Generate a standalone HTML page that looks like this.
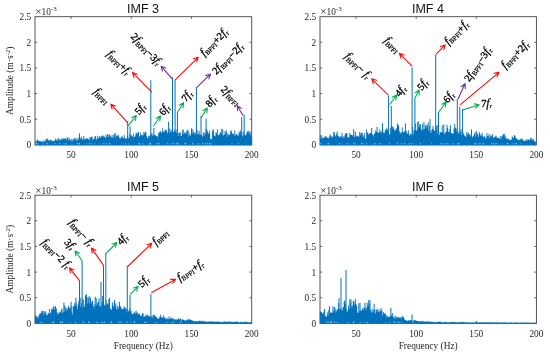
<!DOCTYPE html>
<html lang="en"><head><meta charset="utf-8"><title>IMF spectra</title>
<style>
html,body{margin:0;padding:0;background:#fff;}
body{width:550px;height:354px;overflow:hidden;}
svg{display:block;}
text{font-family:"Liberation Serif","DejaVu Serif",serif;fill:#262626;}
.tk{font-size:9.3px;}
.tt{font-family:"Liberation Sans","DejaVu Sans",sans-serif;font-size:12.5px;fill:#111;}
.al{font-size:9.4px;}
.lb{font-size:10.3px;fill:#000;stroke:#000;stroke-width:0.34px;}
.lb .it{font-style:italic;font-size:12px;stroke-width:0.22px;}
.lb .sb{font-size:6.8px;stroke-width:0.2px;}
</style></head><body>
<svg width="550" height="354" viewBox="0 0 550 354">
<rect width="550" height="354" fill="#fff"/>
<rect x="35.0" y="16.7" width="216.7" height="128.1" fill="none" stroke="#444" stroke-width="0.9"/>
<path d="M71.1,144.8v-2.2 M71.1,16.7v2.2 M131.3,144.8v-2.2 M131.3,16.7v2.2 M191.5,144.8v-2.2 M191.5,16.7v2.2 M35.0,119.2h2.2 M251.7,119.2h-2.2 M35.0,93.6h2.2 M251.7,93.6h-2.2 M35.0,67.9h2.2 M251.7,67.9h-2.2 M35.0,42.3h2.2 M251.7,42.3h-2.2" stroke="#444" stroke-width="0.8" fill="none"/>
<text class="tk" x="71.1" y="158.1" text-anchor="middle">50</text>
<text class="tk" x="131.3" y="158.1" text-anchor="middle">100</text>
<text class="tk" x="191.5" y="158.1" text-anchor="middle">150</text>
<text class="tk" x="251.7" y="158.1" text-anchor="middle">200</text>
<text class="tk" x="31.2" y="148.3" text-anchor="end">0</text>
<text class="tk" x="31.2" y="122.7" text-anchor="end">0.5</text>
<text class="tk" x="31.2" y="97.1" text-anchor="end">1</text>
<text class="tk" x="31.2" y="71.4" text-anchor="end">1.5</text>
<text class="tk" x="31.2" y="45.8" text-anchor="end">2</text>
<text class="tk" x="31.2" y="20.2" text-anchor="end">2.5</text>
<text class="tk" x="35.3" y="15.1"><tspan font-size="11">×</tspan>10<tspan dy="-4" font-size="7">-3</tspan></text>
<text class="tt" x="143.0" y="12.6" text-anchor="middle">IMF 3</text>
<rect x="320.0" y="16.7" width="216.4" height="128.1" fill="none" stroke="#444" stroke-width="0.9"/>
<path d="M356.1,144.8v-2.2 M356.1,16.7v2.2 M416.2,144.8v-2.2 M416.2,16.7v2.2 M476.3,144.8v-2.2 M476.3,16.7v2.2 M320.0,119.2h2.2 M536.4,119.2h-2.2 M320.0,93.6h2.2 M536.4,93.6h-2.2 M320.0,67.9h2.2 M536.4,67.9h-2.2 M320.0,42.3h2.2 M536.4,42.3h-2.2" stroke="#444" stroke-width="0.8" fill="none"/>
<text class="tk" x="356.1" y="158.1" text-anchor="middle">50</text>
<text class="tk" x="416.2" y="158.1" text-anchor="middle">100</text>
<text class="tk" x="476.3" y="158.1" text-anchor="middle">150</text>
<text class="tk" x="536.4" y="158.1" text-anchor="middle">200</text>
<text class="tk" x="316.2" y="148.3" text-anchor="end">0</text>
<text class="tk" x="316.2" y="122.7" text-anchor="end">0.5</text>
<text class="tk" x="316.2" y="97.1" text-anchor="end">1</text>
<text class="tk" x="316.2" y="71.4" text-anchor="end">1.5</text>
<text class="tk" x="316.2" y="45.8" text-anchor="end">2</text>
<text class="tk" x="316.2" y="20.2" text-anchor="end">2.5</text>
<text class="tk" x="320.3" y="15.1"><tspan font-size="11">×</tspan>10<tspan dy="-4" font-size="7">-3</tspan></text>
<text class="tt" x="427.9" y="12.6" text-anchor="middle">IMF 4</text>
<rect x="35.0" y="195.2" width="216.7" height="128.1" fill="none" stroke="#444" stroke-width="0.9"/>
<path d="M71.1,323.3v-2.2 M71.1,195.2v2.2 M131.3,323.3v-2.2 M131.3,195.2v2.2 M191.5,323.3v-2.2 M191.5,195.2v2.2 M35.0,297.7h2.2 M251.7,297.7h-2.2 M35.0,272.1h2.2 M251.7,272.1h-2.2 M35.0,246.4h2.2 M251.7,246.4h-2.2 M35.0,220.8h2.2 M251.7,220.8h-2.2" stroke="#444" stroke-width="0.8" fill="none"/>
<text class="tk" x="71.1" y="336.6" text-anchor="middle">50</text>
<text class="tk" x="131.3" y="336.6" text-anchor="middle">100</text>
<text class="tk" x="191.5" y="336.6" text-anchor="middle">150</text>
<text class="tk" x="251.7" y="336.6" text-anchor="middle">200</text>
<text class="tk" x="31.2" y="326.8" text-anchor="end">0</text>
<text class="tk" x="31.2" y="301.2" text-anchor="end">0.5</text>
<text class="tk" x="31.2" y="275.6" text-anchor="end">1</text>
<text class="tk" x="31.2" y="249.9" text-anchor="end">1.5</text>
<text class="tk" x="31.2" y="224.3" text-anchor="end">2</text>
<text class="tk" x="31.2" y="198.7" text-anchor="end">2.5</text>
<text class="tk" x="35.3" y="193.6"><tspan font-size="11">×</tspan>10<tspan dy="-4" font-size="7">-3</tspan></text>
<text class="tt" x="143.0" y="191.1" text-anchor="middle">IMF 5</text>
<rect x="320.0" y="195.2" width="216.4" height="128.1" fill="none" stroke="#444" stroke-width="0.9"/>
<path d="M356.1,323.3v-2.2 M356.1,195.2v2.2 M416.2,323.3v-2.2 M416.2,195.2v2.2 M476.3,323.3v-2.2 M476.3,195.2v2.2 M320.0,297.7h2.2 M536.4,297.7h-2.2 M320.0,272.1h2.2 M536.4,272.1h-2.2 M320.0,246.4h2.2 M536.4,246.4h-2.2 M320.0,220.8h2.2 M536.4,220.8h-2.2" stroke="#444" stroke-width="0.8" fill="none"/>
<text class="tk" x="356.1" y="336.6" text-anchor="middle">50</text>
<text class="tk" x="416.2" y="336.6" text-anchor="middle">100</text>
<text class="tk" x="476.3" y="336.6" text-anchor="middle">150</text>
<text class="tk" x="536.4" y="336.6" text-anchor="middle">200</text>
<text class="tk" x="316.2" y="326.8" text-anchor="end">0</text>
<text class="tk" x="316.2" y="301.2" text-anchor="end">0.5</text>
<text class="tk" x="316.2" y="275.6" text-anchor="end">1</text>
<text class="tk" x="316.2" y="249.9" text-anchor="end">1.5</text>
<text class="tk" x="316.2" y="224.3" text-anchor="end">2</text>
<text class="tk" x="316.2" y="198.7" text-anchor="end">2.5</text>
<text class="tk" x="320.3" y="193.6"><tspan font-size="11">×</tspan>10<tspan dy="-4" font-size="7">-3</tspan></text>
<text class="tt" x="427.9" y="191.1" text-anchor="middle">IMF 6</text>
<path d="M35.0,145.2V142.0H35.7V141.9H36.4V140.6H37.1V139.4H37.8V140.9H38.5V141.0H39.2V141.1H39.9V141.5H40.6V141.0H41.3V142.1H42.0V142.0H42.7V140.3H43.4V142.2H44.1V141.0H44.8V141.4H45.5V139.2H46.2V139.6H46.9V138.6H47.6V140.0H48.3V140.4H49.0V141.0H49.7V139.8H50.4V140.1H51.1V140.3H51.8V141.3H52.5V141.6H53.2V141.1H53.9V140.6H54.6V140.8H55.3V138.8H56.0V139.7H56.7V141.0H57.4V139.3H58.1V137.9H58.8V140.2H59.5V139.6H60.2V140.3H60.9V139.4H61.6V138.3H62.3V139.6H63.0V138.7H63.7V138.6H64.4V138.9H65.1V138.3H65.8V140.2H66.5V138.5H67.2V137.8H67.9V140.1H68.6V137.6H69.3V139.4H70.0V140.3H70.7V141.3H71.4V138.9H72.1V141.2H72.8V139.1H73.5V140.1H74.2V138.1H74.9V139.7H75.6V137.8H76.3V140.3H77.0V140.3H77.7V138.0H78.4V139.5H79.1V136.7H79.8V138.3H80.5V138.8H81.2V136.7H81.9V140.0H82.6V139.0H83.3V139.2H84.0V139.7H84.7V139.3H85.4V138.9H86.1V138.4H86.8V138.3H87.5V138.9H88.2V139.3H88.9V140.2H89.6V136.9H90.3V138.1H91.0V137.0H91.7V136.8H92.4V139.9H93.1V138.8H93.8V138.5H94.5V139.3H95.2V136.1H95.9V139.9H96.6V138.9H97.3V136.0H98.0V138.3H98.7V137.9H99.4V136.1H100.1V137.8H100.8V136.5H101.5V136.6H102.2V135.4H102.9V136.0H103.6V136.9H104.3V136.8H105.0V138.4H105.7V134.7H106.4V137.1H107.1V134.3H107.8V137.0H108.5V134.8H109.2V134.6H109.9V136.3H110.6V137.4H111.3V137.5H112.0V137.4H112.7V138.3H113.4V134.8H114.1V133.6H114.8V137.2H115.5V133.6H116.2V136.0H116.9V136.6H117.6V135.7H118.3V135.0H119.0V137.7H119.7V139.0H120.4V138.2H121.1V137.0H121.8V136.3H122.5V138.1H123.2V138.2H123.9V135.3H124.6V138.3H125.3V138.9H126.0V139.1H126.7V137.7H127.4V136.1H128.1V138.5H128.8V138.3H129.5V134.0H130.2V136.9H130.9V135.3H131.6V136.1H132.3V136.7H133.0V133.5H133.7V137.6H134.4V137.0H135.1V135.5H135.8V132.8H136.5V133.9H137.2V133.2H137.9V134.9H138.6V136.7H139.3V136.5H140.0V133.0H140.7V136.1H141.4V134.8H142.1V135.0H142.8V135.4H143.5V132.1H144.2V133.8H144.9V131.9H145.6V132.6H146.3V136.2H147.0V138.4H147.7V137.7H148.4V136.1H149.1V135.7H149.8V136.8H150.5V135.1H151.2V133.3H151.9V136.0H152.6V133.8H153.3V136.1H154.0V135.3H154.7V135.0H155.4V135.7H156.1V136.3H156.8V136.1H157.5V137.4H158.2V133.2H158.9V132.2H159.6V133.6H160.3V131.3H161.0V133.3H161.7V132.2H162.4V128.2H163.1V131.7H163.8V132.3H164.5V130.4H165.2V130.0H165.9V129.7H166.6V131.7H167.3V133.4H168.0V132.1H168.7V133.1H169.4V128.4H170.1V132.1H170.8V129.8H171.5V132.3H172.2V135.9H172.9V132.0H173.6V132.1H174.3V130.2H175.0V131.9H175.7V129.4H176.4V133.1H177.1V133.9H177.8V136.0H178.5V133.1H179.2V132.4H179.9V132.8H180.6V135.9H181.3V135.8H182.0V130.5H182.7V134.3H183.4V133.8H184.1V132.8H184.8V132.4H185.5V134.2H186.2V130.9H186.9V132.8H187.6V131.0H188.3V136.8H189.0V133.5H189.7V135.9H190.4V135.1H191.1V134.1H191.8V133.7H192.5V129.5H193.2V132.3H193.9V132.5H194.6V135.0H195.3V133.2H196.0V130.1H196.7V129.8H197.4V134.5H198.1V133.5H198.8V130.9H199.5V135.0H200.2V134.9H200.9V134.4H201.6V135.4H202.3V136.8H203.0V132.1H203.7V135.8H204.4V133.0H205.1V134.6H205.8V129.1H206.5V129.7H207.2V131.4H207.9V133.4H208.6V133.7H209.3V130.9H210.0V138.6H210.7V139.5H211.4V139.3H212.1V131.5H212.8V130.5H213.5V135.7H214.2V135.8H214.9V136.2H215.6V132.6H216.3V133.1H217.0V129.5H217.7V135.1H218.4V135.5H219.1V134.5H219.8V132.2H220.5V133.3H221.2V128.9H221.9V135.3H222.6V135.1H223.3V136.1H224.0V134.7H224.7V131.1H225.4V132.9H226.1V130.6H226.8V136.7H227.5V133.4H228.2V134.8H228.9V135.3H229.6V134.8H230.3V131.5H231.0V132.0H231.7V134.1H232.4V133.7H233.1V133.7H233.8V135.6H234.5V130.5H235.2V135.5H235.9V134.7H236.6V134.0H237.3V135.4H238.0V135.8H238.7V131.7H239.4V133.6H240.1V130.5H240.8V132.8H241.5V135.3H242.2V136.6H242.9V131.8H243.6V135.5H244.3V134.9H245.0V135.4H245.7V135.0H246.4V133.0H247.1V132.1H247.8V132.7H248.5V133.5H249.2V131.5H249.9V135.2H250.6V132.1H251.3V137.5H252.0V145.2Z" fill="#0072BD" stroke="#0072BD" stroke-width="0.2" stroke-linejoin="round"/>
<path d="M79.5,144.8V133.5M83.8,144.8V136.1M95.2,144.8V136.1M112.0,144.8V135.1M127.7,144.8V121.2M130.1,144.8V126.4M138.5,144.8V132.0M150.8,144.8V80.2M153.9,144.8V127.9M160.2,144.8V131.5M168.6,144.8V121.7M172.5,144.8V77.2M175.1,144.8V80.2M177.4,144.8V112.0M183.1,144.8V129.4M187.9,144.8V129.4M191.5,144.8V128.4M196.4,144.8V87.9M201.0,144.8V116.1M206.1,144.8V118.7M213.2,144.8V129.4M222.8,144.8V129.4M231.2,144.8V130.5M241.7,144.8V117.1M244.2,144.8V114.6M248.1,144.8V130.5" fill="none" stroke="#0072BD" stroke-width="1.0"/>
<path d="M36.0,144.3v-1.2M36.8,144.3v-1.4M38.1,144.3v-0.7M43.0,144.3v-0.7M47.2,144.3v-1.5M55.0,144.3v-1.1M59.8,144.3v-1.4M64.0,144.3v-0.9M65.5,144.3v-0.7M66.2,144.3v-1.0M71.8,144.3v-0.6M77.3,144.3v-1.2M78.8,144.3v-0.8M79.4,144.3v-1.2M86.4,144.3v-0.9M89.2,144.3v-1.2M91.3,144.3v-0.9M94.8,144.3v-0.9M99.8,144.3v-0.7M103.9,144.3v-1.5M106.8,144.3v-1.5M109.5,144.3v-1.5M110.2,144.3v-0.7M122.8,144.3v-0.8M125.6,144.3v-1.1M128.4,144.3v-0.6M138.9,144.3v-1.2M139.6,144.3v-0.9M143.1,144.3v-0.9M148.8,144.3v-0.6M149.4,144.3v-0.7M150.1,144.3v-1.6M150.8,144.3v-1.0M157.1,144.3v-1.5M159.2,144.3v-1.5M167.7,144.3v-1.4M171.8,144.3v-1.0M173.9,144.3v-1.3M176.8,144.3v-0.9M177.4,144.3v-1.6M178.1,144.3v-0.9M185.1,144.3v-1.4M185.8,144.3v-1.3M192.8,144.3v-1.5M197.0,144.3v-0.6M198.4,144.3v-1.0M202.6,144.3v-1.5M205.4,144.3v-1.2M207.5,144.3v-1.2M209.6,144.3v-1.3M210.3,144.3v-0.9M211.0,144.3v-0.8M232.0,144.3v-0.8M238.3,144.3v-1.3" fill="none" stroke="#fff" stroke-opacity="0.75" stroke-width="0.7"/>
<path d="M320.0,145.2V135.4H320.7V138.5H321.4V135.3H322.1V138.8H322.8V137.5H323.5V137.6H324.2V137.7H324.9V136.1H325.6V137.6H326.3V136.7H327.0V138.1H327.7V137.9H328.4V138.6H329.1V135.9H329.8V134.2H330.5V137.1H331.2V136.3H331.9V137.4H332.6V136.4H333.3V132.3H334.0V132.1H334.7V135.5H335.4V136.6H336.1V133.8H336.8V131.7H337.5V135.7H338.2V136.1H338.9V137.6H339.6V137.3H340.3V136.2H341.0V136.5H341.7V132.9H342.4V138.3H343.1V136.4H343.8V137.8H344.5V135.3H345.2V133.4H345.9V133.5H346.6V133.2H347.3V137.3H348.0V137.9H348.7V136.9H349.4V133.1H350.1V134.9H350.8V134.8H351.5V135.1H352.2V135.4H352.9V137.0H353.6V135.7H354.3V137.3H355.0V131.8H355.7V137.1H356.4V135.7H357.1V136.1H357.8V136.6H358.5V137.0H359.2V132.1H359.9V135.3H360.6V132.7H361.3V133.3H362.0V133.0H362.7V136.9H363.4V135.5H364.1V133.3H364.8V138.8H365.5V138.7H366.2V129.5H366.9V132.2H367.6V133.2H368.3V135.1H369.0V133.7H369.7V133.0H370.4V133.3H371.1V133.2H371.8V134.7H372.5V134.8H373.2V136.6H373.9V133.9H374.6V133.2H375.3V130.5H376.0V131.4H376.7V127.0H377.4V132.8H378.1V132.8H378.8V132.6H379.5V129.4H380.2V132.2H380.9V131.4H381.6V133.2H382.3V130.8H383.0V132.4H383.7V133.6H384.4V132.2H385.1V129.5H385.8V130.2H386.5V127.8H387.2V129.5H387.9V131.3H388.6V135.3H389.3V134.5H390.0V127.9H390.7V133.3H391.4V125.9H392.1V126.6H392.8V129.0H393.5V127.6H394.2V131.3H394.9V130.1H395.6V129.9H396.3V128.3H397.0V123.4H397.7V125.0H398.4V126.3H399.1V131.4H399.8V133.9H400.5V132.2H401.2V132.9H401.9V127.4H402.6V132.2H403.3V132.4H404.0V131.5H404.7V132.2H405.4V132.8H406.1V131.0H406.8V134.0H407.5V133.6H408.2V130.3H408.9V135.7H409.6V133.7H410.3V134.8H411.0V134.6H411.7V135.3H412.4V127.1H413.1V133.8H413.8V129.9H414.5V130.8H415.2V123.7H415.9V131.3H416.6V130.1H417.3V122.1H418.0V121.6H418.7V127.5H419.4V126.9H420.1V124.3H420.8V129.2H421.5V130.4H422.2V124.1H422.9V129.7H423.6V122.1H424.3V128.9H425.0V126.4H425.7V125.2H426.4V128.2H427.1V125.3H427.8V122.4H428.5V130.5H429.2V126.0H429.9V132.8H430.6V132.9H431.3V130.4H432.0V129.1H432.7V126.1H433.4V129.7H434.1V131.0H434.8V131.6H435.5V130.3H436.2V126.3H436.9V125.1H437.6V133.8H438.3V131.5H439.0V135.1H439.7V132.6H440.4V132.2H441.1V132.6H441.8V125.5H442.5V132.5H443.2V133.1H443.9V134.3H444.6V134.0H445.3V132.1H446.0V131.8H446.7V124.8H447.4V128.1H448.1V132.1H448.8V132.4H449.5V129.4H450.2V131.9H450.9V133.4H451.6V133.0H452.3V133.9H453.0V133.4H453.7V128.4H454.4V124.0H455.1V127.7H455.8V128.7H456.5V131.6H457.2V132.9H457.9V133.7H458.6V131.6H459.3V134.1H460.0V132.1H460.7V129.1H461.4V134.9H462.1V131.9H462.8V132.9H463.5V134.4H464.2V135.7H464.9V136.5H465.6V137.0H466.3V132.3H467.0V135.0H467.7V132.5H468.4V133.6H469.1V134.3H469.8V136.4H470.5V135.4H471.2V134.3H471.9V137.6H472.6V136.7H473.3V135.9H474.0V133.8H474.7V132.4H475.4V137.1H476.1V135.7H476.8V133.6H477.5V134.4H478.2V136.9H478.9V131.9H479.6V134.0H480.3V135.4H481.0V136.2H481.7V132.9H482.4V135.6H483.1V137.5H483.8V137.0H484.5V135.9H485.2V138.7H485.9V137.8H486.6V133.3H487.3V136.1H488.0V136.3H488.7V133.8H489.4V138.2H490.1V135.6H490.8V136.2H491.5V135.7H492.2V134.1H492.9V138.2H493.6V137.5H494.3V137.0H495.0V136.7H495.7V135.8H496.4V137.4H497.1V138.0H497.8V138.0H498.5V138.2H499.2V138.6H499.9V136.1H500.6V139.4H501.3V136.5H502.0V136.5H502.7V134.1H503.4V135.0H504.1V134.1H504.8V137.9H505.5V136.3H506.2V139.3H506.9V139.3H507.6V138.4H508.3V138.9H509.0V140.3H509.7V140.2H510.4V139.7H511.1V139.9H511.8V136.6H512.5V137.7H513.2V138.1H513.9V135.2H514.6V135.7H515.3V137.7H516.0V138.3H516.7V139.5H517.4V139.5H518.1V140.1H518.8V140.3H519.5V139.8H520.2V139.3H520.9V139.2H521.6V138.6H522.3V139.7H523.0V140.8H523.7V140.8H524.4V141.3H525.1V140.4H525.8V140.7H526.5V139.0H527.2V140.5H527.9V139.3H528.6V140.3H529.3V140.1H530.0V138.3H530.7V140.1H531.4V138.0H532.1V140.0H532.8V139.1H533.5V140.5H534.2V141.2H534.9V141.9H535.6V141.7H536.3V145.2Z" fill="#0072BD" stroke="#0072BD" stroke-width="0.2" stroke-linejoin="round"/>
<path d="M353.7,144.8V129.4M371.7,144.8V127.9M382.5,144.8V123.3M388.6,144.8V95.6M391.3,144.8V105.9M398.1,144.8V125.3M405.4,144.8V123.3M412.1,144.8V67.4M414.9,144.8V99.2M419.8,144.8V124.3M425.8,144.8V125.3M430.0,144.8V119.2M435.7,144.8V54.6M438.5,144.8V112.0M443.8,144.8V124.3M450.4,144.8V125.3M457.3,144.8V98.7M459.8,144.8V106.9M462.6,144.8V108.9M471.5,144.8V129.4M476.3,144.8V131.0" fill="none" stroke="#0072BD" stroke-width="1.0"/>
<path d="M320.4,144.3v-1.0M321.8,144.3v-0.7M328.1,144.3v-1.4M328.8,144.3v-0.9M339.2,144.3v-1.4M342.1,144.3v-0.7M346.9,144.3v-1.4M349.1,144.3v-0.8M353.9,144.3v-1.6M355.4,144.3v-0.7M361.6,144.3v-1.6M363.1,144.3v-1.2M366.6,144.3v-1.4M373.6,144.3v-1.1M375.6,144.3v-1.2M379.1,144.3v-0.9M379.9,144.3v-1.2M389.6,144.3v-1.1M397.4,144.3v-1.6M401.6,144.3v-1.1M404.4,144.3v-1.6M409.2,144.3v-1.2M412.1,144.3v-1.3M420.4,144.3v-1.6M431.6,144.3v-0.9M440.8,144.3v-1.5M442.9,144.3v-1.1M445.6,144.3v-1.1M447.8,144.3v-1.2M451.9,144.3v-0.6M453.4,144.3v-1.0M457.5,144.3v-0.6M458.2,144.3v-0.8M458.9,144.3v-1.3M474.4,144.3v-1.0M475.8,144.3v-1.4M477.9,144.3v-0.7M479.9,144.3v-1.4M482.8,144.3v-1.5M484.1,144.3v-0.8M491.9,144.3v-1.1M493.2,144.3v-1.5M495.4,144.3v-0.9M496.8,144.3v-1.2M502.4,144.3v-0.9M507.2,144.3v-1.3M507.9,144.3v-1.1M512.1,144.3v-0.9M515.0,144.3v-1.5M516.4,144.3v-1.1M520.5,144.3v-0.8M536.0,144.3v-0.9" fill="none" stroke="#fff" stroke-opacity="0.75" stroke-width="0.7"/>
<path d="M35.0,323.7V315.3H35.7V316.9H36.4V315.9H37.1V317.5H37.8V318.2H38.5V316.1H39.2V313.9H39.9V313.6H40.6V313.2H41.3V311.3H42.0V310.9H42.7V311.4H43.4V314.4H44.1V311.1H44.8V313.0H45.5V311.7H46.2V314.9H46.9V315.6H47.6V313.8H48.3V313.1H49.0V309.0H49.7V313.9H50.4V312.8H51.1V309.5H51.8V309.8H52.5V308.1H53.2V306.5H53.9V310.1H54.6V306.8H55.3V313.4H56.0V308.4H56.7V312.3H57.4V314.4H58.1V313.7H58.8V311.8H59.5V313.3H60.2V312.5H60.9V309.9H61.6V308.7H62.3V312.7H63.0V312.4H63.7V311.9H64.4V305.5H65.1V307.3H65.8V311.0H66.5V308.0H67.2V309.4H67.9V305.9H68.6V307.4H69.3V308.4H70.0V308.5H70.7V306.2H71.4V312.4H72.1V314.3H72.8V306.1H73.5V307.1H74.2V303.2H74.9V305.4H75.6V303.1H76.3V306.5H77.0V308.9H77.7V304.4H78.4V300.9H79.1V305.1H79.8V297.9H80.5V306.7H81.2V303.2H81.9V298.5H82.6V307.8H83.3V299.7H84.0V306.9H84.7V304.4H85.4V296.4H86.1V294.3H86.8V297.2H87.5V303.5H88.2V297.8H88.9V295.9H89.6V303.6H90.3V303.0H91.0V303.6H91.7V300.8H92.4V301.3H93.1V306.0H93.8V308.8H94.5V304.5H95.2V306.4H95.9V298.5H96.6V305.1H97.3V303.0H98.0V301.8H98.7V298.5H99.4V306.6H100.1V305.7H100.8V307.5H101.5V302.2H102.2V296.0H102.9V305.2H103.6V304.6H104.3V305.5H105.0V306.8H105.7V300.5H106.4V304.5H107.1V303.5H107.8V304.6H108.5V299.3H109.2V307.0H109.9V308.4H110.6V309.7H111.3V309.6H112.0V302.5H112.7V305.4H113.4V307.3H114.1V303.0H114.8V306.6H115.5V303.5H116.2V309.5H116.9V305.9H117.6V309.4H118.3V307.8H119.0V305.2H119.7V306.7H120.4V306.5H121.1V308.6H121.8V309.8H122.5V309.0H123.2V308.4H123.9V306.6H124.6V307.5H125.3V308.9H126.0V308.6H126.7V312.6H127.4V310.3H128.1V311.6H128.8V310.5H129.5V308.4H130.2V311.5H130.9V310.9H131.6V313.9H132.3V314.6H133.0V313.0H133.7V314.3H134.4V311.8H135.1V313.9H135.8V313.1H136.5V313.8H137.2V312.4H137.9V315.0H138.6V314.1H139.3V313.6H140.0V315.8H140.7V315.9H141.4V315.5H142.1V313.2H142.8V313.4H143.5V317.0H144.2V316.5H144.9V316.6H145.6V314.7H146.3V315.8H147.0V314.8H147.7V316.4H148.4V316.0H149.1V315.9H149.8V317.1H150.5V318.2H151.2V316.1H151.9V317.8H152.6V315.0H153.3V315.6H154.0V314.7H154.7V316.9H155.4V315.9H156.1V316.9H156.8V318.3H157.5V319.1H158.2V318.8H158.9V317.8H159.6V317.2H160.3V314.7H161.0V317.1H161.7V317.8H162.4V317.8H163.1V315.4H163.8V318.1H164.5V317.3H165.2V318.8H165.9V318.7H166.6V319.5H167.3V318.2H168.0V319.6H168.7V316.6H169.4V318.7H170.1V318.4H170.8V317.4H171.5V319.2H172.2V318.1H172.9V319.3H173.6V319.2H174.3V319.3H175.0V319.4H175.7V319.7H176.4V319.6H177.1V320.1H177.8V318.3H178.5V318.9H179.2V319.8H179.9V318.9H180.6V318.8H181.3V320.9H182.0V319.6H182.7V319.8H183.4V319.9H184.1V320.3H184.8V321.1H185.5V320.3H186.2V320.5H186.9V319.8H187.6V319.4H188.3V319.3H189.0V320.1H189.7V319.5H190.4V319.8H191.1V320.3H191.8V320.3H192.5V321.0H193.2V321.0H193.9V321.7H194.6V321.2H195.3V321.2H196.0V321.4H196.7V321.3H197.4V321.1H198.1V321.4H198.8V320.9H199.5V320.8H200.2V321.2H200.9V321.4H201.6V320.7H202.3V321.4H203.0V321.0H203.7V321.2H204.4V321.7H205.1V321.8H205.8V321.6H206.5V321.8H207.2V322.1H207.9V321.4H208.6V321.9H209.3V321.5H210.0V321.4H210.7V322.0H211.4V321.4H212.1V321.7H212.8V321.8H213.5V321.4H214.2V321.8H214.9V322.1H215.6V321.9H216.3V321.7H217.0V321.8H217.7V321.7H218.4V321.8H219.1V322.1H219.8V321.9H220.5V322.5H221.2V322.3H221.9V321.8H222.6V322.2H223.3V322.0H224.0V321.5H224.7V321.9H225.4V321.5H226.1V322.0H226.8V321.9H227.5V321.8H228.2V321.7H228.9V321.9H229.6V322.1H230.3V321.5H231.0V322.1H231.7V322.2H232.4V321.9H233.1V322.1H233.8V322.1H234.5V322.0H235.2V321.9H235.9V321.6H236.6V322.1H237.3V321.8H238.0V322.5H238.7V322.4H239.4V322.5H240.1V321.8H240.8V322.3H241.5V322.2H242.2V322.3H242.9V322.2H243.6V322.3H244.3V321.9H245.0V321.9H245.7V321.7H246.4V322.1H247.1V322.3H247.8V322.4H248.5V322.2H249.2V322.5H249.9V322.5H250.6V322.0H251.3V322.3H252.0V323.7Z" fill="#0072BD" stroke="#0072BD" stroke-width="0.2" stroke-linejoin="round"/>
<path d="M55.5,323.3V306.4M63.9,323.3V302.8M71.1,323.3V301.8M75.9,323.3V297.7M79.5,323.3V280.8M82.1,323.3V261.3M85.6,323.3V295.1M90.4,323.3V297.7M95.2,323.3V296.7M101.0,323.3V281.8M103.5,323.3V265.4M105.8,323.3V253.6M109.6,323.3V297.7M114.5,323.3V300.2M119.3,323.3V301.8M127.3,323.3V265.9M130.0,323.3V295.1M150.9,323.3V294.1M136.1,323.3V310.5" fill="none" stroke="#0072BD" stroke-width="1.0"/>
<path d="M40.2,322.8v-0.8M41.0,322.8v-0.9M43.0,322.8v-0.7M52.1,322.8v-0.8M52.8,322.8v-0.6M53.5,322.8v-1.5M59.8,322.8v-0.5M60.5,322.8v-1.3M62.0,322.8v-1.4M62.6,322.8v-1.4M71.0,322.8v-0.6M75.2,322.8v-1.1M75.9,322.8v-0.5M82.9,322.8v-0.6M83.7,322.8v-1.4M88.5,322.8v-1.2M89.2,322.8v-1.1M96.9,322.8v-1.0M97.7,322.8v-0.7M101.8,322.8v-1.3M103.2,322.8v-0.9M104.6,322.8v-1.4M110.9,322.8v-1.5M111.6,322.8v-0.8M118.6,322.8v-1.2M120.0,322.8v-1.4M121.4,322.8v-1.2M127.0,322.8v-1.6M130.6,322.8v-1.0M134.1,322.8v-1.6M134.8,322.8v-1.6M144.6,322.8v-1.2M145.9,322.8v-1.2M146.6,322.8v-0.6M154.3,322.8v-0.6M156.4,322.8v-1.1M166.9,322.8v-1.1M170.4,322.8v-0.6M172.5,322.8v-1.0M173.9,322.8v-1.2M180.2,322.8v-1.2M180.9,322.8v-0.8" fill="none" stroke="#fff" stroke-opacity="0.75" stroke-width="0.7"/>
<path d="M320.0,323.7V311.6H320.7V312.2H321.4V312.3H322.1V313.8H322.8V314.0H323.5V311.8H324.2V312.7H324.9V315.4H325.6V317.0H326.3V316.7H327.0V312.6H327.7V315.4H328.4V309.9H329.1V312.3H329.8V313.0H330.5V312.8H331.2V312.6H331.9V313.1H332.6V306.4H333.3V311.0H334.0V310.8H334.7V312.4H335.4V308.8H336.1V311.5H336.8V309.4H337.5V309.8H338.2V303.0H338.9V309.3H339.6V308.9H340.3V308.4H341.0V310.1H341.7V311.1H342.4V308.2H343.1V307.1H343.8V301.7H344.5V300.4H345.2V304.1H345.9V309.3H346.6V312.0H347.3V311.2H348.0V305.6H348.7V309.1H349.4V299.6H350.1V302.4H350.8V306.6H351.5V308.1H352.2V305.6H352.9V300.9H353.6V301.6H354.3V306.3H355.0V298.9H355.7V304.2H356.4V306.1H357.1V312.6H357.8V313.0H358.5V303.4H359.2V311.2H359.9V311.3H360.6V310.1H361.3V311.1H362.0V309.3H362.7V307.5H363.4V309.8H364.1V308.3H364.8V307.8H365.5V310.7H366.2V308.2H366.9V303.1H367.6V306.0H368.3V300.3H369.0V303.8H369.7V309.8H370.4V310.9H371.1V312.4H371.8V309.0H372.5V312.2H373.2V310.2H373.9V313.2H374.6V309.4H375.3V313.5H376.0V309.6H376.7V311.5H377.4V309.3H378.1V312.3H378.8V309.9H379.5V311.9H380.2V311.5H380.9V311.2H381.6V310.4H382.3V315.5H383.0V312.1H383.7V313.7H384.4V313.7H385.1V313.5H385.8V315.6H386.5V317.5H387.2V315.9H387.9V316.9H388.6V317.3H389.3V316.7H390.0V317.0H390.7V315.5H391.4V316.1H392.1V313.1H392.8V316.5H393.5V317.2H394.2V318.3H394.9V315.7H395.6V318.4H396.3V316.8H397.0V317.6H397.7V317.5H398.4V317.3H399.1V317.5H399.8V318.4H400.5V317.1H401.2V318.6H401.9V316.2H402.6V317.1H403.3V316.9H404.0V319.3H404.7V320.3H405.4V320.1H406.1V320.6H406.8V321.2H407.5V320.9H408.2V320.2H408.9V320.4H409.6V320.6H410.3V320.2H411.0V319.9H411.7V320.5H412.4V320.8H413.1V321.2H413.8V320.1H414.5V320.3H415.2V320.6H415.9V320.8H416.6V320.9H417.3V320.9H418.0V321.5H418.7V321.2H419.4V321.2H420.1V321.6H420.8V321.6H421.5V321.2H422.2V321.0H422.9V321.7H423.6V321.8H424.3V321.7H425.0V321.8H425.7V321.5H426.4V321.9H427.1V321.4H427.8V321.6H428.5V321.6H429.2V321.8H429.9V321.8H430.6V321.9H431.3V321.8H432.0V322.3H432.7V322.0H433.4V321.8H434.1V322.1H434.8V322.2H435.5V322.4H436.2V322.1H436.9V322.2H437.6V322.0H438.3V321.8H439.0V321.7H439.7V321.9H440.4V321.7H441.1V322.4H441.8V322.6H442.5V322.4H443.2V322.4H443.9V321.9H444.6V322.3H445.3V321.9H446.0V322.3H446.7V322.5H447.4V322.4H448.1V322.6H448.8V322.5H449.5V322.3H450.2V322.3H450.9V322.0H451.6V322.0H452.3V322.2H453.0V322.3H453.7V322.3H454.4V321.9H455.1V322.3H455.8V322.5H456.5V322.5H457.2V322.3H457.9V322.5H458.6V322.6H459.3V322.3H460.0V322.2H460.7V322.3H461.4V322.3H462.1V322.2H462.8V322.0H463.5V322.3H464.2V322.4H464.9V322.4H465.6V322.4H466.3V322.3H467.0V322.7H467.7V322.5H468.4V322.7H469.1V322.7H469.8V322.6H470.5V322.7H471.2V322.7H471.9V322.6H472.6V322.6H473.3V322.7H474.0V322.7H474.7V322.7H475.4V322.3H476.1V322.6H476.8V322.6H477.5V322.6H478.2V322.6H478.9V322.5H479.6V322.6H480.3V322.5H481.0V322.6H481.7V322.5H482.4V322.4H483.1V322.5H483.8V322.4H484.5V322.4H485.2V322.5H485.9V322.5H486.6V322.6H487.3V322.5H488.0V322.4H488.7V322.6H489.4V322.6H490.1V322.4H490.8V322.6H491.5V322.7H492.2V322.5H492.9V322.5H493.6V322.6H494.3V322.7H495.0V322.7H495.7V322.6H496.4V322.6H497.1V322.5H497.8V322.6H498.5V322.6H499.2V322.6H499.9V322.9H500.6V322.8H501.3V322.7H502.0V322.5H502.7V322.6H503.4V322.8H504.1V322.6H504.8V322.5H505.5V322.8H506.2V322.6H506.9V322.9H507.6V322.9H508.3V322.8H509.0V322.8H509.7V322.8H510.4V322.6H511.1V322.7H511.8V322.9H512.5V322.8H513.2V322.8H513.9V322.8H514.6V322.5H515.3V322.7H516.0V322.6H516.7V322.8H517.4V322.8H518.1V322.8H518.8V322.9H519.5V322.9H520.2V322.8H520.9V322.8H521.6V322.8H522.3V322.7H523.0V322.6H523.7V322.9H524.4V322.8H525.1V322.8H525.8V322.8H526.5V322.8H527.2V322.8H527.9V322.8H528.6V322.8H529.3V322.9H530.0V322.7H530.7V322.8H531.4V322.9H532.1V322.9H532.8V322.9H533.5V322.8H534.2V322.8H534.9V322.7H535.6V322.9H536.3V323.7Z" fill="#0072BD" stroke="#0072BD" stroke-width="0.2" stroke-linejoin="round"/>
<path d="M324.4,323.3V309.0M329.6,323.3V306.4M334.4,323.3V306.9M339.0,323.3V298.2M341.0,323.3V278.0M346.0,323.3V270.0M351.0,323.3V299.2M354.9,323.3V303.8M360.0,323.3V302.8M365.0,323.3V302.8M370.0,323.3V300.0M374.1,323.3V303.8M381.0,323.3V307.9M390.9,323.3V307.9M412.0,323.3V314.6M476.3,323.3V321.5" fill="none" stroke="#0072BD" stroke-width="1.0"/>
<path d="M326.6,322.8v-1.2M328.1,322.8v-1.2M330.1,322.8v-1.0M330.9,322.8v-1.4M331.6,322.8v-1.4M334.4,322.8v-1.3M335.1,322.8v-0.6M337.1,322.8v-1.1M348.4,322.8v-1.0M353.2,322.8v-0.7M353.9,322.8v-1.5M360.2,322.8v-0.9M364.4,322.8v-0.7M366.6,322.8v-0.9M367.9,322.8v-1.0M385.4,322.8v-0.8M389.6,322.8v-1.0M393.9,322.8v-1.4M395.2,322.8v-1.5M398.1,322.8v-1.4M399.4,322.8v-0.9M401.6,322.8v-0.9M412.8,322.8v-1.4" fill="none" stroke="#fff" stroke-opacity="0.75" stroke-width="0.7"/>
<path d="M127.3,122.3L110.8,104.2M115.5,106.0L110.8,104.2L112.1,109.0" stroke="#FF0A0A" stroke-width="1.1" fill="none" stroke-linecap="round" stroke-linejoin="round"/>
<text class="lb" transform="translate(101.3,96.3) rotate(45.0)" text-anchor="middle" y="3"><tspan class="it">f</tspan><tspan class="sb" dy="1.5">BPFI</tspan><tspan dy="-1.5" font-size="1">&#8203;</tspan></text>
<path d="M151.5,91.8L132.5,72.6M137.2,74.2L132.5,72.6L134.0,77.4" stroke="#FF0A0A" stroke-width="1.1" fill="none" stroke-linecap="round" stroke-linejoin="round"/>
<text class="lb" transform="translate(118.6,62.8) rotate(45.0)" text-anchor="middle" y="3"><tspan class="it">f</tspan><tspan class="sb" dy="1.5">BPFI</tspan><tspan dy="-1.5" font-size="1">&#8203;</tspan>+<tspan class="it">f</tspan><tspan class="sb" dy="1.5">r</tspan><tspan dy="-1.5" font-size="1">&#8203;</tspan></text>
<path d="M128.4,125.7L136.3,115.5M135.4,120.4L136.3,115.5L131.8,117.6" stroke="#00B050" stroke-width="1.1" fill="none" stroke-linecap="round" stroke-linejoin="round"/>
<text class="lb" transform="translate(140.3,109.3) rotate(-50.0)" text-anchor="middle" y="3">5<tspan class="it">f</tspan><tspan class="sb" dy="1.5">r</tspan><tspan dy="-1.5" font-size="1">&#8203;</tspan></text>
<path d="M153.7,125.7L160.5,116.0M159.8,121.0L160.5,116.0L156.1,118.3" stroke="#00B050" stroke-width="1.1" fill="none" stroke-linecap="round" stroke-linejoin="round"/>
<text class="lb" transform="translate(164.6,109.9) rotate(-50.0)" text-anchor="middle" y="3">6<tspan class="it">f</tspan><tspan class="sb" dy="1.5">r</tspan><tspan dy="-1.5" font-size="1">&#8203;</tspan></text>
<path d="M171.8,78.3L161.2,66.3M165.9,68.1L161.2,66.3L162.4,71.1" stroke="#7030A0" stroke-width="1.1" fill="none" stroke-linecap="round" stroke-linejoin="round"/>
<text class="lb" transform="translate(145.8,49.4) rotate(47.0)" text-anchor="middle" y="3">2<tspan class="it">f</tspan><tspan class="sb" dy="1.5">BPFI</tspan><tspan dy="-1.5" font-size="1">&#8203;</tspan>−3<tspan class="it">f</tspan><tspan class="sb" dy="1.5">r</tspan><tspan dy="-1.5" font-size="1">&#8203;</tspan></text>
<path d="M175.2,79.9L198.2,57.3M196.6,62.0L198.2,57.3L193.4,58.8" stroke="#FF0A0A" stroke-width="1.1" fill="none" stroke-linecap="round" stroke-linejoin="round"/>
<text class="lb" transform="translate(214.2,42.6) rotate(-45.0)" text-anchor="middle" y="3"><tspan class="it">f</tspan><tspan class="sb" dy="1.5">BPFI</tspan><tspan dy="-1.5" font-size="1">&#8203;</tspan>+2<tspan class="it">f</tspan><tspan class="sb" dy="1.5">r</tspan><tspan dy="-1.5" font-size="1">&#8203;</tspan></text>
<path d="M196.3,87.8L210.5,74.2M208.9,78.9L210.5,74.2L205.7,75.6" stroke="#7030A0" stroke-width="1.1" fill="none" stroke-linecap="round" stroke-linejoin="round"/>
<text class="lb" transform="translate(228.0,59.0) rotate(-45.0)" text-anchor="middle" y="3">2<tspan class="it">f</tspan><tspan class="sb" dy="1.5">BPFI</tspan><tspan dy="-1.5" font-size="1">&#8203;</tspan>−2<tspan class="it">f</tspan><tspan class="sb" dy="1.5">r</tspan><tspan dy="-1.5" font-size="1">&#8203;</tspan></text>
<path d="M177.9,111.8L183.6,102.8M183.1,107.8L183.6,102.8L179.3,105.3" stroke="#00B050" stroke-width="1.1" fill="none" stroke-linecap="round" stroke-linejoin="round"/>
<text class="lb" transform="translate(187.2,96.3) rotate(-50.0)" text-anchor="middle" y="3">7<tspan class="it">f</tspan><tspan class="sb" dy="1.5">r</tspan><tspan dy="-1.5" font-size="1">&#8203;</tspan></text>
<path d="M201.2,117.5L207.3,108.0M206.8,113.0L207.3,108.0L203.0,110.5" stroke="#00B050" stroke-width="1.1" fill="none" stroke-linecap="round" stroke-linejoin="round"/>
<text class="lb" transform="translate(211.2,101.6) rotate(-50.0)" text-anchor="middle" y="3">8<tspan class="it">f</tspan><tspan class="sb" dy="1.5">r</tspan><tspan dy="-1.5" font-size="1">&#8203;</tspan></text>
<path d="M242.8,115.2L237.3,105.7M241.5,108.4L237.3,105.7L237.6,110.7" stroke="#7030A0" stroke-width="1.1" fill="none" stroke-linecap="round" stroke-linejoin="round"/>
<text class="lb" transform="translate(230.4,96.0) rotate(45.0)" text-anchor="middle" y="3">2<tspan class="it">f</tspan><tspan class="sb" dy="1.5">BPFI</tspan><tspan dy="-1.5" font-size="1">&#8203;</tspan></text>
<path d="M388.1,94.9L371.7,78.8M376.5,80.3L371.7,78.8L373.3,83.5" stroke="#FF0A0A" stroke-width="1.1" fill="none" stroke-linecap="round" stroke-linejoin="round"/>
<text class="lb" transform="translate(357.6,65.9) rotate(45.0)" text-anchor="middle" y="3"><tspan class="it">f</tspan><tspan class="sb" dy="1.5">BPFI</tspan><tspan dy="-1.5" font-size="1">&#8203;</tspan>− <tspan class="it">f</tspan><tspan class="sb" dy="1.5">r</tspan><tspan dy="-1.5" font-size="1">&#8203;</tspan></text>
<path d="M411.8,65.8L399.4,53.3M404.1,54.9L399.4,53.3L400.9,58.1" stroke="#FF0A0A" stroke-width="1.1" fill="none" stroke-linecap="round" stroke-linejoin="round"/>
<text class="lb" transform="translate(391.8,45.1) rotate(45.0)" text-anchor="middle" y="3"><tspan class="it">f</tspan><tspan class="sb" dy="1.5">BPFI</tspan><tspan dy="-1.5" font-size="1">&#8203;</tspan></text>
<path d="M390.1,104.2L396.6,94.9M395.9,99.9L396.6,94.9L392.2,97.3" stroke="#00B050" stroke-width="1.1" fill="none" stroke-linecap="round" stroke-linejoin="round"/>
<text class="lb" transform="translate(400.7,91.3) rotate(-50.0)" text-anchor="middle" y="3">4<tspan class="it">f</tspan><tspan class="sb" dy="1.5">r</tspan><tspan dy="-1.5" font-size="1">&#8203;</tspan></text>
<path d="M414.7,98.5L419.2,90.0M419.1,95.0L419.2,90.0L415.1,92.9" stroke="#00B050" stroke-width="1.1" fill="none" stroke-linecap="round" stroke-linejoin="round"/>
<text class="lb" transform="translate(422.8,85.0) rotate(-50.0)" text-anchor="middle" y="3">5<tspan class="it">f</tspan><tspan class="sb" dy="1.5">r</tspan><tspan dy="-1.5" font-size="1">&#8203;</tspan></text>
<path d="M436.3,53.9L445.3,44.9M443.8,49.7L445.3,44.9L440.5,46.4" stroke="#FF0A0A" stroke-width="1.1" fill="none" stroke-linecap="round" stroke-linejoin="round"/>
<text class="lb" transform="translate(456.6,33.0) rotate(-45.0)" text-anchor="middle" y="3"><tspan class="it">f</tspan><tspan class="sb" dy="1.5">BPFI</tspan><tspan dy="-1.5" font-size="1">&#8203;</tspan>+<tspan class="it">f</tspan><tspan class="sb" dy="1.5">r</tspan><tspan dy="-1.5" font-size="1">&#8203;</tspan></text>
<path d="M439.1,111.8L446.2,101.9M445.4,106.8L446.2,101.9L441.8,104.2" stroke="#00B050" stroke-width="1.1" fill="none" stroke-linecap="round" stroke-linejoin="round"/>
<text class="lb" transform="translate(449.0,97.4) rotate(-50.0)" text-anchor="middle" y="3">6<tspan class="it">f</tspan><tspan class="sb" dy="1.5">r</tspan><tspan dy="-1.5" font-size="1">&#8203;</tspan></text>
<path d="M458.3,98.5L465.1,83.6M465.3,88.6L465.1,83.6L461.2,86.7" stroke="#7030A0" stroke-width="1.1" fill="none" stroke-linecap="round" stroke-linejoin="round"/>
<text class="lb" transform="translate(478.0,64.5) rotate(-55.0)" text-anchor="middle" y="3">2<tspan class="it">f</tspan><tspan class="sb" dy="1.5">BPFI</tspan><tspan dy="-1.5" font-size="1">&#8203;</tspan>−3<tspan class="it">f</tspan><tspan class="sb" dy="1.5">r</tspan><tspan dy="-1.5" font-size="1">&#8203;</tspan></text>
<path d="M460.3,104.7L499.0,72.3M497.0,76.9L499.0,72.3L494.1,73.4" stroke="#FF0A0A" stroke-width="1.1" fill="none" stroke-linecap="round" stroke-linejoin="round"/>
<text class="lb" transform="translate(515.3,55.0) rotate(-45.0)" text-anchor="middle" y="3"><tspan class="it">f</tspan><tspan class="sb" dy="1.5">BPFI</tspan><tspan dy="-1.5" font-size="1">&#8203;</tspan>+2<tspan class="it">f</tspan><tspan class="sb" dy="1.5">r</tspan><tspan dy="-1.5" font-size="1">&#8203;</tspan></text>
<path d="M463.1,109.8L479.2,104.7M475.6,108.2L479.2,104.7L474.3,103.9" stroke="#00B050" stroke-width="1.1" fill="none" stroke-linecap="round" stroke-linejoin="round"/>
<text class="lb" transform="translate(486.5,103.9) rotate(0.0)" text-anchor="middle" y="3">7<tspan class="it">f</tspan><tspan class="sb" dy="1.5">r</tspan><tspan dy="-1.5" font-size="1">&#8203;</tspan></text>
<path d="M79.4,280.6L69.5,267.9M74.0,270.0L69.5,267.9L70.4,272.8" stroke="#FF0A0A" stroke-width="1.1" fill="none" stroke-linecap="round" stroke-linejoin="round"/>
<text class="lb" transform="translate(55.8,253.8) rotate(45.0)" text-anchor="middle" y="3"><tspan class="it">f</tspan><tspan class="sb" dy="1.5">BPFI</tspan><tspan dy="-1.5" font-size="1">&#8203;</tspan>−2 <tspan class="it">f</tspan><tspan class="sb" dy="1.5">r</tspan><tspan dy="-1.5" font-size="1">&#8203;</tspan></text>
<path d="M82.2,260.8L75.1,251.0M79.6,253.3L75.1,251.0L75.9,255.9" stroke="#00B050" stroke-width="1.1" fill="none" stroke-linecap="round" stroke-linejoin="round"/>
<text class="lb" transform="translate(69.6,244.6) rotate(50.0)" text-anchor="middle" y="3">3<tspan class="it">f</tspan><tspan class="sb" dy="1.5">r</tspan><tspan dy="-1.5" font-size="1">&#8203;</tspan></text>
<path d="M103.4,265.1L91.5,248.1M95.9,250.4L91.5,248.1L92.2,253.1" stroke="#FF0A0A" stroke-width="1.1" fill="none" stroke-linecap="round" stroke-linejoin="round"/>
<text class="lb" transform="translate(80.9,232.6) rotate(50.0)" text-anchor="middle" y="3"><tspan class="it">f</tspan><tspan class="sb" dy="1.5">BPFI</tspan><tspan dy="-1.5" font-size="1">&#8203;</tspan>− <tspan class="it">f</tspan><tspan class="sb" dy="1.5">r</tspan><tspan dy="-1.5" font-size="1">&#8203;</tspan></text>
<path d="M105.6,253.8L116.9,242.5M115.4,247.3L116.9,242.5L112.1,244.0" stroke="#00B050" stroke-width="1.1" fill="none" stroke-linecap="round" stroke-linejoin="round"/>
<text class="lb" transform="translate(122.6,239.7) rotate(-45.0)" text-anchor="middle" y="3">4<tspan class="it">f</tspan><tspan class="sb" dy="1.5">r</tspan><tspan dy="-1.5" font-size="1">&#8203;</tspan></text>
<path d="M127.7,266.5L151.7,243.3M150.1,248.0L151.7,243.3L146.9,244.8" stroke="#FF0A0A" stroke-width="1.1" fill="none" stroke-linecap="round" stroke-linejoin="round"/>
<text class="lb" transform="translate(160.5,237.5) rotate(-42.0)" text-anchor="middle" y="3"><tspan class="it">f</tspan><tspan class="sb" dy="1.5">BPFI</tspan><tspan dy="-1.5" font-size="1">&#8203;</tspan></text>
<path d="M130.5,294.2L138.2,286.3M136.7,291.1L138.2,286.3L133.5,287.9" stroke="#00B050" stroke-width="1.1" fill="none" stroke-linecap="round" stroke-linejoin="round"/>
<text class="lb" transform="translate(143.8,282.0) rotate(-45.0)" text-anchor="middle" y="3">5<tspan class="it">f</tspan><tspan class="sb" dy="1.5">r</tspan><tspan dy="-1.5" font-size="1">&#8203;</tspan></text>
<path d="M151.7,292.5L175.7,279.2M172.9,283.3L175.7,279.2L170.7,279.4" stroke="#FF0A0A" stroke-width="1.1" fill="none" stroke-linecap="round" stroke-linejoin="round"/>
<text class="lb" transform="translate(190.3,271.0) rotate(-33.0)" text-anchor="middle" y="3"><tspan class="it">f</tspan><tspan class="sb" dy="1.5">BPFI</tspan><tspan dy="-1.5" font-size="1">&#8203;</tspan>+<tspan class="it">f</tspan><tspan class="sb" dy="1.5">r</tspan><tspan dy="-1.5" font-size="1">&#8203;</tspan></text>
<text class="al" transform="translate(13.4,80.8) rotate(-90)" text-anchor="middle">Amplitude (m·s<tspan dy="-3.6" font-size="7">-2</tspan><tspan dy="3.6">)</tspan></text>
<text class="al" transform="translate(13.4,259.2) rotate(-90)" text-anchor="middle">Amplitude (m·s<tspan dy="-3.6" font-size="7">-2</tspan><tspan dy="3.6">)</tspan></text>
<text class="al" x="143.3" y="348.5" text-anchor="middle">Frequency (Hz)</text>
<text class="al" x="428.2" y="348.5" text-anchor="middle">Frequency (Hz)</text>
</svg>
</body></html>
